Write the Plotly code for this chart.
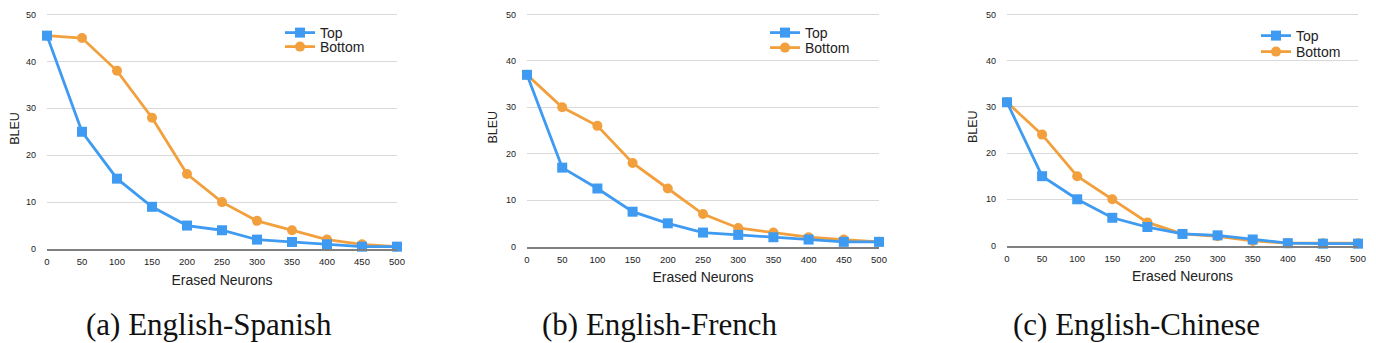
import plotly.graph_objects as go

neurons = [0, 50, 100, 150, 200, 250, 300, 350, 400, 450, 500]

es_top = [45.5, 25, 15, 9, 5, 4, 2, 1.5, 1, 0.5, 0.5]
es_bottom = [45.5, 45, 38, 28, 16, 10, 6, 4, 2, 1, 0.5]

fr_top = [37, 17, 12.5, 7.5, 5, 3, 2.5, 2, 1.5, 1, 1]
fr_bottom = [37, 30, 26, 18, 12.5, 7, 4, 3, 2, 1.5, 1]

zh_top = [31, 15, 10, 6, 4, 2.5, 2.2, 1.3, 0.5, 0.4, 0.4]
zh_bottom = [31, 24, 15, 10, 5, 2.5, 2, 1, 0.5, 0.5, 0.5]

captions = ["(a) English-Spanish", "(b) English-French", "(c) English-Chinese"]
y_ticks = [0, 10, 20, 30, 40, 50]

# page is 1376x343; the html body has an 8px margin
OFF = 8
W, H = 1376 - OFF, 343 - OFF
BLUE = "#3f9bf2"
ORANGE = "#f2a03d"
Y_MAX = 51.4  # a little headroom so the 50 gridline and label are kept


def px(x):
    return (x - OFF) / W


def py(y):
    return (343 - y) / H


panels = [
    dict(top=es_top, bottom=es_bottom, x0=47, x1=397, y0=249,
         leg_x=320, leg_y=(33, 47), cap=209),
    dict(top=fr_top, bottom=fr_bottom, x0=527, x1=879, y0=246.5,
         leg_x=805, leg_y=(33, 48), cap=660),
    dict(top=zh_top, bottom=zh_bottom, x0=1007, x1=1358, y0=245.5,
         leg_x=1296, leg_y=(36, 52), cap=1136),
]

fig = go.Figure()
layout = dict(
    width=W, height=H, margin=dict(l=0, r=0, t=0, b=0, autoexpand=False),
    paper_bgcolor="white", plot_bgcolor="white", showlegend=True,
    font=dict(family="Liberation Sans, Arial, sans-serif", color="#222"),
    annotations=[],
)

for i, p in enumerate(panels):
    n = "" if i == 0 else str(i + 1)
    xa, ya = "x" + n, "y" + n
    lg_top = "legend" + ("" if i == 0 else str(2 * i + 1))
    lg_bot = "legend" + str(2 * i + 2)
    fig.add_trace(go.Scatter(
        x=neurons, y=p["bottom"], name="Bottom", mode="lines+markers",
        line=dict(color=ORANGE, width=2.8),
        marker=dict(symbol="circle", size=10, color=ORANGE),
        xaxis=xa, yaxis=ya, legend=lg_bot, showlegend=True, cliponaxis=False))
    fig.add_trace(go.Scatter(
        x=neurons, y=p["top"], name="Top", mode="lines+markers",
        line=dict(color=BLUE, width=2.8),
        marker=dict(symbol="square", size=10, color=BLUE),
        xaxis=xa, yaxis=ya, legend=lg_top, showlegend=True, cliponaxis=False))

    layout["xaxis" + n] = dict(
        domain=[px(p["x0"]), px(p["x1"])], range=[0, 500],
        anchor=ya, tickvals=neurons, showgrid=False, zeroline=False,
        showline=True, linecolor="#808080", linewidth=1.5,
        tickfont=dict(size=9.5), ticks="", ticklabelstandoff=3,
        title=dict(text="Erased Neurons", font=dict(size=14), standoff=9),
        automargin=False, fixedrange=True)
    layout["yaxis" + n] = dict(
        domain=[py(p["y0"]), 1.0], range=[0, Y_MAX],
        anchor=xa, tickvals=y_ticks, showgrid=True, gridcolor="#d9d9d9",
        gridwidth=1, zeroline=False, showline=False,
        tickfont=dict(size=9), ticks="", ticklabelstandoff=10,
        title=dict(text="BLEU", font=dict(size=12.5), standoff=5),
        automargin=False, fixedrange=True)
    for lg, yc in ((lg_top, p["leg_y"][0]), (lg_bot, p["leg_y"][1])):
        layout[lg] = dict(
            x=px(p["leg_x"] - 40), y=py(yc), xanchor="left",
            yanchor="middle", bgcolor="rgba(0,0,0,0)", font=dict(size=14),
            itemwidth=30)
    layout["annotations"].append(dict(
        text=captions[i], x=px(p["cap"]), y=py(324),
        xref="paper", yref="paper", showarrow=False,
        xanchor="center", yanchor="middle",
        font=dict(family="Liberation Serif, Times New Roman, serif",
                  size=31, color="#111")))

fig.update_layout(**layout)
fig.write_html("out.html")
